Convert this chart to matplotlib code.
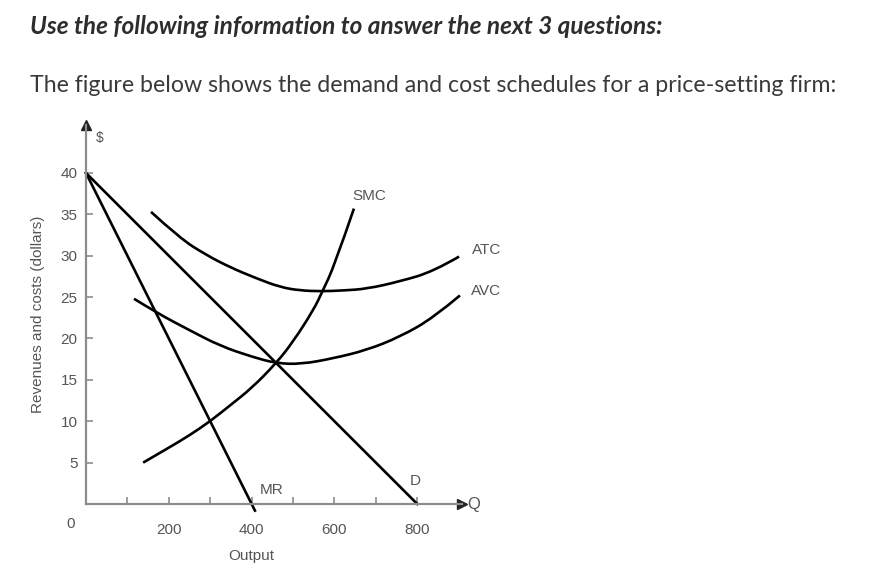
import numpy as np
import matplotlib.pyplot as plt
from matplotlib.path import Path
from matplotlib.patches import PathPatch

# values (Q = output, P = dollars)
demand_q = [0, 800]
demand_p = [40, 0]

mr_q = [0, 408]
mr_p = [40, -0.8]

smc_q = [138, 200, 250, 300, 350, 400, 459, 500, 550, 570, 600, 647]
smc_p = [5.0, 6.8, 8.3, 10.0, 12.0, 14.0, 17.0, 19.6, 23.5, 25.6, 28.8, 35.7]

atc_q = [157, 227, 290, 348, 410, 469, 517, 569, 620, 678, 758, 839, 901]
atc_p = [35.3, 32.1, 30.1, 28.6, 27.3, 26.2, 25.8, 25.7, 25.8, 26.0, 26.9, 28.1, 29.9]

avc_q = [116, 171, 250, 324, 400, 459, 520, 597, 678, 758, 839, 903]
avc_p = [24.8, 23.1, 21.0, 19.1, 17.8, 17.0, 16.9, 17.6, 18.6, 20.2, 22.5, 25.2]

y_ticks = [5, 10, 15, 20, 25, 30, 35, 40]
x_ticks = [100, 200, 300, 400, 500, 600, 700, 800]
x_labels = ["", "200", "", "400", "", "600", "", "800"]


def smooth_curve(ax, xs, ys, **kw):
    # quadratic bezier through midpoints, read points act as control points
    pts = list(zip(xs, ys))
    verts = [pts[0]]
    codes = [Path.MOVETO]
    for i in range(1, len(pts) - 1):
        mid = ((pts[i][0] + pts[i + 1][0]) / 2, (pts[i][1] + pts[i + 1][1]) / 2)
        if i == len(pts) - 2:
            mid = pts[-1]
        verts += [pts[i], mid]
        codes += [Path.CURVE3, Path.CURVE3]
    patch = PathPatch(Path(verts, codes), facecolor='none', edgecolor='black',
                      capstyle='butt', **kw)
    ax.add_patch(patch)


plt.rcParams['font.family'] = ['Liberation Sans', 'DejaVu Sans']

fig = plt.figure(figsize=(8.85, 5.69), dpi=100)

fig.text(30 / 885, 1 - 27 / 569, "Use the following information to answer the next 3 questions:",
         family='Lato', fontsize=17.6, fontweight='bold', style='italic', color='#2d2d2d', va='center')
fig.text(30 / 885, 1 - 85 / 569, "The figure below shows the demand and cost schedules for a price-setting firm:",
         family='Lato', fontsize=16.7, color='#3a3a3a', va='center')

ax = fig.add_axes([86 / 885, 65 / 569, 376 / 885, 379 / 569])
ax.set_xlim(0, 908)
ax.set_ylim(0, 45.8)

axis_col = '#8c8c8c'
text_col = '#555555'
for s in ['top', 'right']:
    ax.spines[s].set_visible(False)
for s in ['left', 'bottom']:
    ax.spines[s].set_color(axis_col)
    ax.spines[s].set_linewidth(1.6)
ax.plot([908], [0], marker='>', color='#222222', markersize=7, clip_on=False)
ax.plot([0], [45.8], marker='^', color='#222222', markersize=7, clip_on=False)

fs = 11
ax.set_yticks(y_ticks)
ax.set_yticklabels([str(v) for v in y_ticks])
ax.set_xticks(x_ticks)
ax.set_xticklabels(x_labels)
ax.tick_params(axis='both', direction='in', color=axis_col, width=1.2, length=5,
               labelsize=fs, labelcolor=text_col)
ax.tick_params(axis='y', pad=6)
ax.tick_params(axis='x', pad=14)

lw = 1.9
ax.plot(demand_q, demand_p, color='black', lw=lw, clip_on=False)
ax.plot(mr_q, mr_p, color='black', lw=lw, clip_on=False)
smooth_curve(ax, smc_q, smc_p, lw=lw)
smooth_curve(ax, atc_q, atc_p, lw=lw)
smooth_curve(ax, avc_q, avc_p, lw=lw)

ax.text(684, 37.2, "SMC", fontsize=fs, color=text_col, ha='center', va='center')
ax.text(967, 30.7, "ATC", fontsize=fs, color=text_col, ha='center', va='center')
ax.text(967, 25.8, "AVC", fontsize=fs, color=text_col, ha='center', va='center')
ax.text(795, 2.8, "D", fontsize=fs, color=text_col, ha='center', va='center')
ax.text(449, 1.7, "MR", fontsize=fs, color=text_col, ha='center', va='center')
ax.text(937, 0, "Q", fontsize=fs + 1, color=text_col, ha='center', va='center')
ax.text(34, 44.2, "$", fontsize=fs - 1, color=text_col, ha='center', va='center')
ax.text(-38, -2.4, "0", fontsize=fs, color=text_col, ha='center', va='center', clip_on=False)

ax.set_xlabel("Output", fontsize=fs, color=text_col)
ax.xaxis.set_label_coords(400 / 908, -0.12)
ax.set_ylabel("Revenues and costs (dollars)", fontsize=fs, color=text_col)
ax.yaxis.set_label_coords(-0.11, 0.5)

fig.savefig("out.png", dpi=100)
